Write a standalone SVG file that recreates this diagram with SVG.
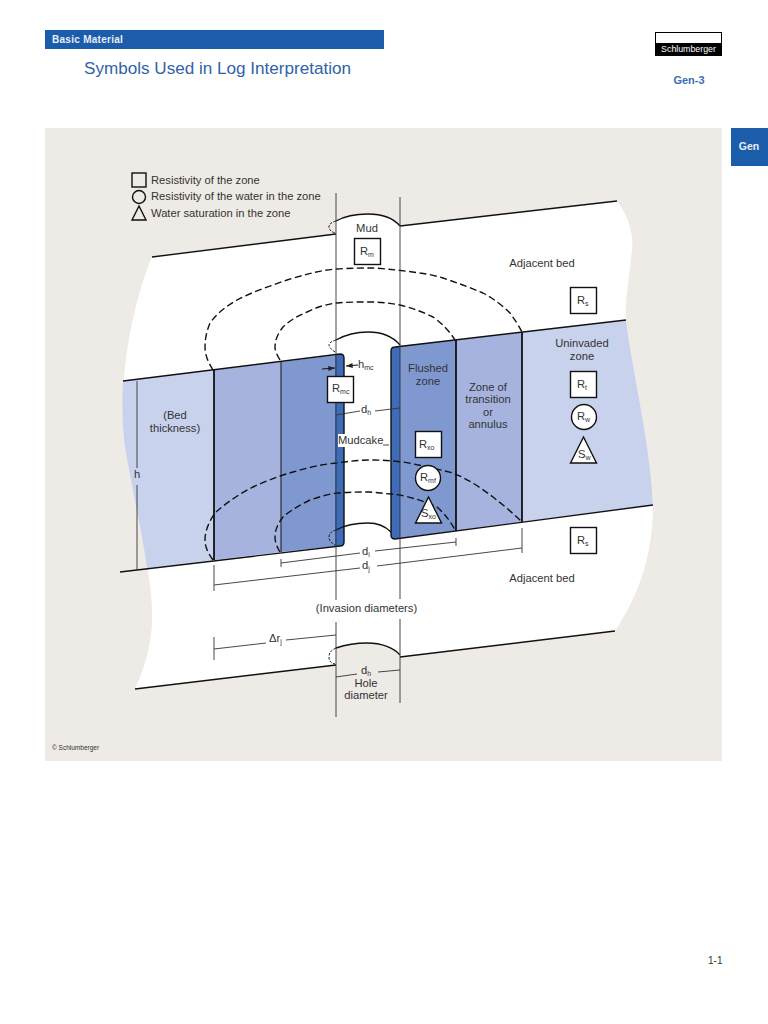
<svg xmlns="http://www.w3.org/2000/svg" width="768" height="1024" viewBox="0 0 768 1024">
<defs>
<style>
text{font-family:"Liberation Sans",Arial,sans-serif;font-size:11.2px;fill:#333}
.c{text-anchor:middle}
.s{font-size:7px}
.b{fill:#fff;stroke:#111;stroke-width:1.4}
.o{fill:none;stroke:#111;stroke-width:1.4}
.t{fill:none;stroke:#111;stroke-width:1.8}
.n{fill:none;stroke:#222;stroke-width:1.1}
.h{fill:none;stroke:#333;stroke-width:.9}
.d{fill:none;stroke:#111;stroke-width:1.4;stroke-dasharray:7 3.5}
.k{fill:none;stroke:#111;stroke-width:1}
.w{font-weight:bold}
</style>
<marker id="a" viewBox="0 0 8 6" refX="8" refY="3" markerWidth="7" markerHeight="5" orient="auto" markerUnits="userSpaceOnUse"><path d="M0 0L8 3L0 6Z" fill="#222"/></marker>
</defs>
<rect width="768" height="1024" fill="#fff"/>
<g id="header">
<rect x="45" y="30" width="339" height="19" fill="#1b5daa"/>
<text x="52" y="43" class="w" style="fill:#e8eef8;font-size:10px;letter-spacing:.28px">Basic Material</text>
<text x="84" y="74" style="fill:#2f62a8;font-size:17.1px">Symbols Used in Log Interpretation</text>
<rect x="655" y="32" width="67" height="24" fill="#000"/><rect x="656" y="33" width="65" height="10" fill="#fff"/>
<text x="688.500" y="52" class="c" style="fill:#fff;font-size:8.800px">Schlumberger</text>
<text x="689" y="84" class="c w" style="fill:#3b6db3;font-size:11px">Gen-3</text>
<rect x="731" y="128" width="37" height="38" fill="#1b5daa"/>
<text x="749" y="150" class="c w" style="fill:#e8eef8;font-size:10.500px">Gen</text>
</g>
<rect x="45" y="128" width="677" height="633" fill="#eeeae6"/>
<g id="beds">
<path fill="#fff" d="M152 257L336 234V221C345 216 356 214 368 214C384 214 394 219 400 226L617 201C627 214 634 232 632 250C629 280 625 300 626 320C632 370 650 440 653 505C653 550 642 590 615 631L400 657C394 648 382 643 367 643C354 643 344 645 336 648V665L135 689C148 660 153 635 152 610C151 570 135 500 124 440C120 400 125 350 135 310C140 290 146 270 152 257Z"/>
<path fill="#c8d2ec" d="M123 381L214 370V560L147 568C142 530 130 480 124 440C122 420 122 400 123 381Z"/>
<path fill="#c8d2ec" d="M522 332L626 320C632 370 650 440 653 505L522 522Z"/>
<path fill="#a5b3de" d="M214 370L281 362V552L214 560Z"/>
<path fill="#a5b3de" d="M456 340L522 332V522L456 531Z"/>
<path fill="#7f98d0" d="M281 362L337 355V546L281 552Z"/>
<path fill="#7f98d0" d="M400 346L456 340V531L400 538Z"/>
<path fill="#3f6cb8" d="M335 355L340 354Q344 354 344 358V542Q344 546 340 546L335 546Z"/>
<path fill="#3f6cb8" d="M400 346L395 347Q391 347 391 351V535Q391 539 395 539L400 538Z"/>
</g>
<g id="connectors">
<path class="o" d="M152 257L336 234M400 226L617 201"/>
<path class="o" d="M123 381L340 354Q344 354 344 358V542Q344 546 340 546L120 572"/>
<path class="o" d="M626 320L395 347Q391 347 391 351V535Q391 539 395 539L653 505"/>
<path class="o" d="M135 689L336 665M400 657L615 631"/>
<path class="t" d="M214 370V560M456 340V531M522 332V522"/><path class="n" d="M281 362V552"/>
<path class="o" d="M336 221C345 216 356 214 368 214C384 214 394 219 400 226"/>
<path class="o" d="M336 340C345 335 356 332 368 332C384 332 394 338 400 345"/>
<path class="o" d="M336 530C345 525 356 523 368 523C378 523 386 527 391 532"/>
<path class="o" d="M336 648C345 645 354 643 367 643C382 643 394 648 400 655"/>
<path class="d" style="stroke-dasharray:2.500 1.500;stroke-width:1" d="M336 221Q329 223 329 227T335 233M336 340Q329 342 329 345T335 352M336 530Q329 532 329 537T335 545M336 648Q329 651 329 657T335 664"/>
<path class="d" d="M213 370C208 362 205 355 205 347C205 336 208 328 210 323C218 312 227 306 237 300C252 292 270 286 287 280C304 275 320 270 337 269C350 268 362 268 373 268C390 269 405 271 420 273C428 274 436 276 443 278C458 283 471 288 483 293C494 299 503 306 510 313C515 320 519 326 522 332"/>
<path class="d" d="M280 360C277 355 275 351 275 347C275 339 279 332 283 327C290 320 298 316 307 312C317 307 327 304 337 303C348 302 359 302 370 302C380 302 390 303 400 305C412 308 423 312 433 317C443 324 450 332 455 340"/>
<path class="d" d="M213 560C208 553 205 547 205 540C205 530 210 520 215 513C226 503 239 494 253 487C266 481 279 476 293 472C307 468 322 464 337 463C349 461 361 460 373 460C383 460 393 461 403 462C420 465 437 469 453 473C468 479 481 488 493 497C503 505 513 513 522 522"/>
<path class="d" d="M280 552C277 547 275 542 275 537C275 529 279 522 283 517C291 510 300 505 310 500C319 497 328 494 337 493C348 492 359 492 370 492C380 493 390 494 400 495C414 498 426 502 437 507C445 514 451 522 455 530"/>
<path class="h" d="M336 193V600M336 622V717M400 197V599M400 619V703"/>
<path class="h" d="M336 415L360 411M375 411L400 408"/>
<path class="h" d="M281 559V567M281 563L360 553M375 551L456 542M456 538V546"/>
<path class="h" d="M214 565V591M214 585L360 568M377 566L522 548M522 528V553"/>
<path class="h" d="M214 637V660M214 649L266 643M286 640L336 635"/>
<path class="h" d="M336 677L357 674M378 672L400 670"/>
<path class="h" d="M137 381V468M137 485V570"/>
<path class="k" d="M322 369L335 368" marker-end="url(#a)"/>
<path class="k" d="M358 365L346 366" marker-end="url(#a)"/>
<path class="h" d="M383 445H389"/>
</g>
<g id="legend">
<rect class="b" style="fill:none" x="132" y="173" width="14" height="14"/>
<circle class="o" cx="139" cy="197" r="6.500"/>
<path class="o" d="M139 206L132 220H146Z"/>
<text x="151" y="184">Resistivity of the zone</text>
<text x="151" y="200">Resistivity of the water in the zone</text>
<text x="151" y="217">Water saturation in the zone</text>
</g>
<g id="labels">
<text x="367" y="232" class="c">Mud</text>
<text x="542" y="267" class="c">Adjacent bed</text>
<text x="542" y="582" class="c">Adjacent bed</text>
<text x="582" y="347" class="c">Uninvaded</text><text x="582" y="360" class="c">zone</text>
<text x="428" y="372" class="c">Flushed</text><text x="428" y="385" class="c">zone</text>
<text x="488" y="391" class="c">Zone of</text><text x="488" y="403" class="c">transition</text><text x="488" y="416" class="c">or</text><text x="488" y="428" class="c">annulus</text>
<text x="175" y="419" class="c">(Bed</text><text x="175" y="432" class="c">thickness)</text>
<text x="137" y="478" class="c">h</text>
<rect x="338" y="434" width="45" height="13" fill="#fff"/>
<text x="338" y="444">Mudcake</text>
<text x="366.500" y="612" class="c">(Invasion diameters)</text>
<text x="366" y="687" class="c">Hole</text><text x="366" y="699" class="c">diameter</text>
<text x="358" y="368">h<tspan class="s" dy="2">mc</tspan></text>
<text x="361" y="413">d<tspan class="s" dy="2">h</tspan></text>
<text x="362" y="555">d<tspan class="s" dy="2">i</tspan></text>
<text x="362" y="569">d<tspan class="s" dy="2">j</tspan></text>
<text x="269" y="642">Δr<tspan class="s" dy="2">j</tspan></text>
<text x="361" y="674">d<tspan class="s" dy="2">h</tspan></text>
<text x="52" y="750" style="font-size:6.500px">© Schlumberger</text>
<text x="708" y="964" style="font-size:10px">1-1</text>
</g>
<g id="node-rm"><rect class="b" x="354.500" y="238.500" width="26" height="26"/><text x="360" y="255">R<tspan class="s" dy="2">m</tspan></text></g>
<g id="node-rs-top"><rect class="b" x="570.500" y="287.500" width="26" height="26"/><text x="577" y="304">R<tspan class="s" dy="2">s</tspan></text></g>
<g id="node-rt"><rect class="b" x="570.500" y="371.500" width="26" height="26"/><text x="577" y="388">R<tspan class="s" dy="2">t</tspan></text></g>
<g id="node-rw"><circle class="b" cx="584" cy="417" r="12.500"/><text x="577" y="420">R<tspan class="s" dy="2">w</tspan></text></g>
<g id="node-sw"><path class="b" d="M583.500 437L570.500 463H596.500Z"/><text x="578" y="458">S<tspan class="s" dy="2">w</tspan></text></g>
<g id="node-rs-bottom"><rect class="b" x="570.500" y="527.500" width="26" height="26"/><text x="577" y="544">R<tspan class="s" dy="2">s</tspan></text></g>
<g id="node-rmc"><rect class="b" x="327.500" y="376.500" width="26" height="26"/><text x="332" y="392">R<tspan class="s" dy="2">mc</tspan></text></g>
<g id="node-rxo"><rect class="b" x="415.500" y="431.500" width="26" height="26"/><text x="419" y="448">R<tspan class="s" dy="2">xo</tspan></text></g>
<g id="node-rmf"><circle class="b" cx="428" cy="478" r="12.500"/><text x="420" y="481">R<tspan class="s" dy="2">mf</tspan></text></g>
<g id="node-sxo"><path class="b" d="M428.500 497L415.500 523H441.500Z"/><text x="421" y="517">S<tspan class="s" dy="2">xo</tspan></text></g>
</svg>
